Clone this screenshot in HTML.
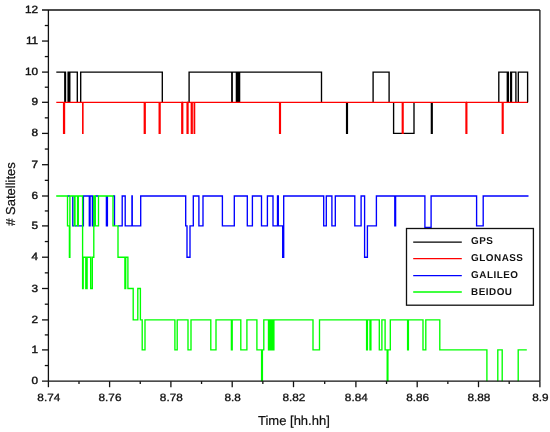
<!DOCTYPE html>
<html><head><meta charset="utf-8"><title>Satellites</title>
<style>
html,body{margin:0;padding:0;background:#fff;}
body{width:550px;height:432px;overflow:hidden;}
svg{display:block;}
text{font-family:"Liberation Sans",Arial,sans-serif;fill:#111;text-rendering:geometricPrecision;}
.yl{font-size:10.5px;text-anchor:end;stroke:#111;stroke-width:0.4px;}
.xl{font-size:10.5px;text-anchor:middle;stroke:#111;stroke-width:0.3px;}
.lg{font-size:9.9px;font-weight:bold;letter-spacing:0.5px;}
.ti{font-size:13px;stroke:#111;stroke-width:0.2px;}
</style></head>
<body>
<svg width="550" height="432" viewBox="0 0 550 432">
<rect width="550" height="432" fill="#fff"/>
<g fill="none" stroke-width="1.35" stroke-linejoin="miter">
<path d="M56.30,72.10 L64.80,72.10 L64.80,102.30 M65.10,102.30 L65.10,72.10 L65.50,72.10 L65.50,102.30 M68.10,102.30 L68.10,72.10 L68.70,72.10 L68.70,102.30 M69.20,102.30 L69.20,72.10 L69.50,72.10 L69.50,102.30 M69.80,102.30 L69.80,72.10 L77.30,72.10 L77.30,102.30 M80.70,102.30 L80.70,72.10 L162.30,72.10 L162.30,102.30 M181.80,102.30 L182.70,102.30 M187.10,102.30 L188.00,102.30 M189.10,102.30 L189.10,72.10 L231.80,72.10 L231.80,102.30 M232.20,102.30 L232.20,72.10 L236.40,72.10 L236.40,102.30 M237.20,102.30 L237.20,72.10 L237.60,72.10 L237.60,102.30 M238.40,102.30 L238.40,72.10 L238.80,72.10 L238.80,102.30 M239.60,102.30 L239.60,72.10 L321.50,72.10 L321.50,102.30 M346.60,102.30 L346.60,133.40 L347.40,133.40 L347.40,102.30 M373.10,102.30 L373.10,72.10 L389.10,72.10 L389.10,102.30 M393.60,102.30 L393.60,133.40 L402.30,133.40 M403.10,133.40 L414.00,133.40 L414.00,102.30 M431.40,102.30 L431.40,133.40 L432.20,133.40 L432.20,102.30 M466.00,102.30 L466.80,102.30 M498.80,102.30 L498.80,72.10 L507.30,72.10 L507.30,102.30 M508.10,102.30 L508.10,72.10 L508.40,72.10 L508.40,102.30 M510.70,102.30 L510.70,72.10 L511.30,72.10 L511.30,102.30 M511.50,102.30 L511.50,72.10 L515.90,72.10 L515.90,102.30 M518.30,102.30 L518.30,72.10 L527.60,72.10 L527.60,102.30 L528.00,102.30" stroke="#000" />
<path d="M56.30,102.30 L63.60,102.30 L63.60,133.40 L64.50,133.40 L64.50,102.30 L82.70,102.30 L82.70,133.40 L82.95,133.40 L82.95,102.30 L144.30,102.30 L144.30,133.40 L145.20,133.40 L145.20,102.30 L159.20,102.30 L159.20,133.40 L160.10,133.40 L160.10,102.30 L181.80,102.30 L181.80,133.40 L182.70,133.40 L182.70,102.30 L187.10,102.30 L187.10,133.40 L188.00,133.40 L188.00,102.30 L191.30,102.30 L191.30,133.40 L192.20,133.40 L192.20,102.30 L194.20,102.30 L194.20,133.40 L194.60,133.40 L194.60,102.30 L279.60,102.30 L279.60,133.40 L280.40,133.40 L280.40,102.30 L402.30,102.30 L402.30,133.40 L403.10,133.40 L403.10,102.30 L466.00,102.30 L466.00,133.40 L466.80,133.40 L466.80,102.30 L502.30,102.30 L502.30,133.40 L503.10,133.40 L503.10,102.30 L527.50,102.30" stroke="#f00" />
<path d="M67.50,196.00 L69.90,196.00 M72.80,196.00 L72.80,225.90 L74.30,225.90 M75.00,225.90 L77.60,225.90 M78.30,225.90 L83.40,225.90 L83.40,196.00 L89.30,196.00 L89.30,225.90 L90.10,225.90 L90.10,196.00 L92.40,196.00 L92.40,225.90 L94.00,225.90 L94.00,196.00 M95.30,196.00 L98.50,196.00 M106.40,196.00 L106.40,225.90 L107.40,225.90 L107.40,196.00 M113.00,196.00 L114.50,196.00 L114.50,225.90 M118.00,225.90 L122.20,225.90 L122.20,196.00 L125.20,196.00 L125.20,225.90 L131.95,225.90 L131.95,196.00 L132.25,196.00 L132.25,225.90 L140.70,225.90 L140.70,196.00 L185.70,196.00 L185.70,225.90 L187.00,225.90 L187.00,257.20 L190.00,257.20 L190.00,225.90 L193.30,225.90 L193.30,196.00 L198.90,196.00 L198.90,225.90 L203.00,225.90 L203.00,196.00 L222.40,196.00 L222.40,225.90 L234.30,225.90 L234.30,196.00 L247.30,196.00 L247.30,225.90 L252.40,225.90 L252.40,196.00 L261.50,196.00 L261.50,225.90 L267.40,225.90 L267.40,196.00 L273.00,196.00 L273.00,225.90 L277.50,225.90 L277.50,196.00 L278.30,196.00 L278.30,225.90 L282.70,225.90 L282.70,257.20 L283.70,257.20 L283.70,196.00 L323.70,196.00 L323.70,225.90 L326.30,225.90 L326.30,196.00 L331.90,196.00 L331.90,225.90 L335.30,225.90 L335.30,196.00 L354.80,196.00 L354.80,225.90 L361.10,225.90 L361.10,196.00 L364.60,196.00 L364.60,257.20 L367.40,257.20 L367.40,225.90 L376.40,225.90 L376.40,196.00 L394.80,196.00 L394.80,225.90 L395.60,225.90 L395.60,196.00 L424.90,196.00 L424.90,227.47 L431.10,227.47 L431.10,196.00 L476.60,196.00 L476.60,225.90 L483.20,225.90 L483.20,196.00 L528.50,196.00" stroke="#00f" />
<path d="M56.20,196.00 L67.50,196.00 L67.50,225.90 L69.40,225.90 L69.40,257.20 L69.90,257.20 L69.90,196.00 L74.30,196.00 L74.30,225.90 L75.00,225.90 L75.00,196.00 L77.60,196.00 L77.60,225.90 L78.30,225.90 L78.30,196.00 L82.60,196.00 L82.60,288.50 L83.20,288.50 L83.20,257.20 L85.80,257.20 L85.80,288.50 L87.10,288.50 L87.10,257.20 L90.70,257.20 L90.70,288.50 L92.30,288.50 L92.30,257.20 L93.80,257.20 L93.80,196.00 L95.30,196.00 L95.30,225.90 L98.50,225.90 L98.50,196.00 L113.00,196.00 L113.00,225.90 L118.00,225.90 L118.00,257.20 L124.90,257.20 L124.90,288.50 L125.70,288.50 L125.70,257.20 L127.90,257.20 L127.90,288.50 L133.20,288.50 L133.20,319.90 L137.80,319.90 L137.80,288.50 L140.40,288.50 L140.40,319.90 L142.20,319.90 L142.20,349.90 L145.00,349.90 L145.00,319.90 L174.90,319.90 L174.90,349.90 L177.20,349.90 L177.20,319.90 L188.00,319.90 L188.00,349.90 L191.00,349.90 L191.00,319.90 L210.80,319.90 L210.80,349.90 L216.00,349.90 L216.00,319.90 L231.40,319.90 L231.40,349.90 L232.20,349.90 L232.20,319.90 L240.80,319.90 L240.80,349.90 L246.90,349.90 L246.90,319.90 L256.90,319.90 L256.90,349.90 L261.60,349.90 L261.60,381.20 M262.40,381.20 L262.40,349.90 L263.80,349.90 L263.80,319.90 L268.50,319.90 L268.50,349.90 L269.10,349.90 L269.10,319.90 L269.50,319.90 L269.50,349.90 L270.10,349.90 L270.10,319.90 L270.50,319.90 L270.50,349.90 L271.30,349.90 L271.30,319.90 L271.80,319.90 L271.80,349.90 L272.60,349.90 L272.60,319.90 L273.10,319.90 L273.10,349.90 L273.90,349.90 L273.90,319.90 L313.00,319.90 L313.00,349.90 L319.50,349.90 L319.50,319.90 L366.60,319.90 L366.60,349.90 L367.40,349.90 L367.40,319.90 L370.00,319.90 L370.00,349.90 L370.90,349.90 L370.90,319.90 L379.30,319.90 L379.30,349.90 L381.90,349.90 L381.90,319.90 L385.10,319.90 L385.10,349.90 L387.20,349.90 L387.20,381.20 M387.90,381.20 L387.90,349.90 L390.30,349.90 L390.30,319.90 L407.60,319.90 L407.60,349.90 L408.40,349.90 L408.40,319.90 L423.00,319.90 L423.00,349.90 L425.80,349.90 L425.80,319.90 L439.80,319.90 L439.80,349.90 L486.90,349.90 L486.90,381.20 M497.80,381.20 L497.80,349.90 L502.20,349.90 L502.20,381.20 M518.20,381.20 L518.20,349.90 L526.80,349.90" stroke="#0f0" />
</g>
<g stroke="#111" stroke-width="1.3" fill="none">
<line x1="48.4" y1="10" x2="48.4" y2="381.2" />
<line x1="539.9" y1="10" x2="539.9" y2="381.2" />
<line x1="42" y1="10" x2="539.9" y2="10" />
<line x1="42" y1="381.2" x2="539.9" y2="381.2" />
<line x1="44.8" y1="365.55" x2="48.4" y2="365.55" />
<line x1="42" y1="349.9" x2="48.4" y2="349.9" />
<line x1="44.8" y1="334.9" x2="48.4" y2="334.9" />
<line x1="42" y1="319.9" x2="48.4" y2="319.9" />
<line x1="44.8" y1="304.2" x2="48.4" y2="304.2" />
<line x1="42" y1="288.5" x2="48.4" y2="288.5" />
<line x1="44.8" y1="272.85" x2="48.4" y2="272.85" />
<line x1="42" y1="257.2" x2="48.4" y2="257.2" />
<line x1="44.8" y1="241.55" x2="48.4" y2="241.55" />
<line x1="42" y1="225.9" x2="48.4" y2="225.9" />
<line x1="44.8" y1="210.95" x2="48.4" y2="210.95" />
<line x1="42" y1="196" x2="48.4" y2="196" />
<line x1="44.8" y1="180.35" x2="48.4" y2="180.35" />
<line x1="42" y1="164.7" x2="48.4" y2="164.7" />
<line x1="44.8" y1="149.05" x2="48.4" y2="149.05" />
<line x1="42" y1="133.4" x2="48.4" y2="133.4" />
<line x1="44.8" y1="117.85" x2="48.4" y2="117.85" />
<line x1="42" y1="102.3" x2="48.4" y2="102.3" />
<line x1="44.8" y1="87.2" x2="48.4" y2="87.2" />
<line x1="42" y1="72.1" x2="48.4" y2="72.1" />
<line x1="44.8" y1="56.57" x2="48.4" y2="56.57" />
<line x1="42" y1="41.05" x2="48.4" y2="41.05" />
<line x1="44.8" y1="25.52" x2="48.4" y2="25.52" />
<line x1="48.4" y1="381.2" x2="48.4" y2="387.2" />
<line x1="79" y1="381.2" x2="79" y2="384" />
<line x1="109.6" y1="381.2" x2="109.6" y2="387.2" />
<line x1="140.25" y1="381.2" x2="140.25" y2="384" />
<line x1="170.9" y1="381.2" x2="170.9" y2="387.2" />
<line x1="201.55" y1="381.2" x2="201.55" y2="384" />
<line x1="232.2" y1="381.2" x2="232.2" y2="387.2" />
<line x1="262.85" y1="381.2" x2="262.85" y2="384" />
<line x1="293.5" y1="381.2" x2="293.5" y2="387.2" />
<line x1="324.7" y1="381.2" x2="324.7" y2="384" />
<line x1="355.9" y1="381.2" x2="355.9" y2="387.2" />
<line x1="386.55" y1="381.2" x2="386.55" y2="384" />
<line x1="417.2" y1="381.2" x2="417.2" y2="387.2" />
<line x1="447.85" y1="381.2" x2="447.85" y2="384" />
<line x1="478.5" y1="381.2" x2="478.5" y2="387.2" />
<line x1="509.2" y1="381.2" x2="509.2" y2="384" />
<line x1="539.9" y1="381.2" x2="539.9" y2="387.2" />
</g>
<rect x="406.5" y="228.5" width="126.9" height="76.7" fill="#fff" stroke="#111" stroke-width="1.3"/>
<line x1="413.2" y1="242.2" x2="461.8" y2="242.2" stroke="#000" stroke-width="1.3"/>
<text class="lg" transform="translate(471.1,243.8) scale(1,1)">GPS</text>
<line x1="413.2" y1="258.6" x2="461.8" y2="258.6" stroke="#f00" stroke-width="1.3"/>
<text class="lg" transform="translate(471.1,260.7) scale(1,1)">GLONASS</text>
<line x1="413.2" y1="275.6" x2="461.8" y2="275.6" stroke="#00f" stroke-width="1.3"/>
<text class="lg" transform="translate(471.1,278.2) scale(1,1)">GALILEO</text>
<line x1="413.2" y1="292.0" x2="461.8" y2="292.0" stroke="#0f0" stroke-width="1.3"/>
<text class="lg" transform="translate(471.1,295.1) scale(1,1)">BEIDOU</text>
<text class="yl" transform="translate(38.1,384.2) scale(1.12,1)">0</text>
<text class="yl" transform="translate(38.1,352.9) scale(1.12,1)">1</text>
<text class="yl" transform="translate(38.1,322.9) scale(1.12,1)">2</text>
<text class="yl" transform="translate(38.1,291.5) scale(1.12,1)">3</text>
<text class="yl" transform="translate(38.1,260.2) scale(1.12,1)">4</text>
<text class="yl" transform="translate(38.1,228.9) scale(1.12,1)">5</text>
<text class="yl" transform="translate(38.1,199) scale(1.12,1)">6</text>
<text class="yl" transform="translate(38.1,167.7) scale(1.12,1)">7</text>
<text class="yl" transform="translate(38.1,136.4) scale(1.12,1)">8</text>
<text class="yl" transform="translate(38.1,105.3) scale(1.12,1)">9</text>
<text class="yl" transform="translate(38.1,75.1) scale(1.12,1)">10</text>
<text class="yl" transform="translate(38.1,44.05) scale(1.12,1)">11</text>
<text class="yl" transform="translate(38.1,13) scale(1.12,1)">12</text>
<text class="xl" transform="translate(48.8,401.3) scale(1.12,1)">8.74</text>
<text class="xl" transform="translate(110,401.3) scale(1.12,1)">8.76</text>
<text class="xl" transform="translate(171.3,401.3) scale(1.12,1)">8.78</text>
<text class="xl" transform="translate(232.6,401.3) scale(1.12,1)">8.8</text>
<text class="xl" transform="translate(293.9,401.3) scale(1.12,1)">8.82</text>
<text class="xl" transform="translate(356.3,401.3) scale(1.12,1)">8.84</text>
<text class="xl" transform="translate(417.6,401.3) scale(1.12,1)">8.86</text>
<text class="xl" transform="translate(478.9,401.3) scale(1.12,1)">8.88</text>
<text class="xl" transform="translate(540.3,401.3) scale(1.12,1)">8.9</text>
<text class="ti" x="293.9" y="425.0" text-anchor="middle">Time [hh.hh]</text>
<text class="ti" transform="translate(15.4,194) rotate(-90)" text-anchor="middle"># Satellites</text>
</svg>
</body></html>
